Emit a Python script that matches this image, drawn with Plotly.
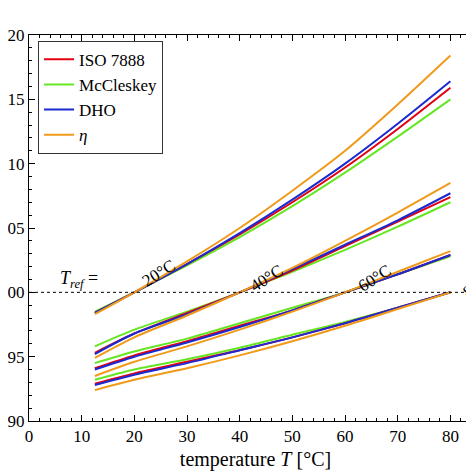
import plotly.graph_objects as go

T = [12.5, 20, 30, 40, 50, 60, 70, 80]
# group Tref = 20
iso20 = [0.984, 1.0, 1.022, 1.045, 1.070, 1.097, 1.127, 1.159]
mcc20 = [0.985, 1.0, 1.021, 1.043, 1.067, 1.093, 1.121, 1.150]
dho20 = [0.984, 1.0, 1.022, 1.046, 1.072, 1.100, 1.131, 1.164]
eta20 = [0.983, 1.0, 1.024, 1.050, 1.079, 1.110, 1.146, 1.184]
# group Tref = 40
iso40 = [0.953, 0.968, 0.984, 1.0, 1.017, 1.036, 1.055, 1.074]
mcc40 = [0.958, 0.971, 0.985, 1.0, 1.016, 1.033, 1.051, 1.070]
dho40 = [0.952, 0.968, 0.983, 1.0, 1.018, 1.037, 1.056, 1.077]
eta40 = [0.949, 0.965, 0.982, 1.0, 1.019, 1.040, 1.062, 1.085]
# group Tref = 60
iso60 = [0.941, 0.951, 0.962, 0.974, 0.986, 1.0, 1.014, 1.029]
mcc60 = [0.945, 0.954, 0.964, 0.976, 0.988, 1.0, 1.014, 1.028]
dho60 = [0.940, 0.950, 0.961, 0.973, 0.986, 1.0, 1.014, 1.029]
eta60 = [0.935, 0.946, 0.958, 0.971, 0.985, 1.0, 1.016, 1.032]
# group Tref = 80
iso80 = [0.929, 0.937, 0.946, 0.955, 0.965, 0.976, 0.988, 1.0]
mcc80 = [0.932, 0.940, 0.948, 0.957, 0.967, 0.977, 0.988, 1.0]
dho80 = [0.928, 0.936, 0.945, 0.955, 0.965, 0.976, 0.988, 1.0]
eta80 = [0.924, 0.932, 0.941, 0.951, 0.962, 0.974, 0.987, 1.0]

names = ["ISO 7888", "McCleskey", "DHO", "<i>η</i>"]
colors = ["#e00010", "#66e622", "#1a2ad0", "#f09a1a"]
groups = [
    [iso20, mcc20, dho20, eta20],
    [iso40, mcc40, dho40, eta40],
    [iso60, mcc60, dho60, eta60],
    [iso80, mcc80, dho80, eta80],
]
y_ticks = [0.90, 0.95, 1.00, 1.05, 1.10, 1.15, 1.20]
labels = ["20°C", "40°C", "60°C", "80°C"]
label_pos = [(24.5, 1.015), (45.0, 1.011), (65.5, 1.011), (85.5, 1.006)]

FONT = "Liberation Serif"
fig = go.Figure()
for gi, g in enumerate(groups):
    for order in [1, 0, 2, 3]:
        fig.add_trace(go.Scatter(x=T, y=g[order], mode="lines", name=names[order],
                                 line=dict(color=colors[order], width=2, shape="spline", smoothing=0.8),
                                 showlegend=False))
for i in range(4):
    fig.add_trace(go.Scatter(x=[None], y=[None], mode="lines", name=names[i],
                             line=dict(color=colors[i], width=2)))
fig.add_hline(y=1.0, line=dict(color="black", width=1, dash="dot"))
for lab, (x, y) in zip(labels, label_pos):
    fig.add_annotation(x=x, y=y, text=lab, showarrow=False, textangle=-32,
                       font=dict(size=17, family=FONT, color="black"))
fig.add_annotation(x=9.5, y=1.0, yshift=13, text="<i>T</i><sub><i>ref</i></sub> =", showarrow=False,
                   font=dict(size=18, family=FONT, color="black"))

ax = dict(showline=True, linecolor="black", linewidth=1, mirror="ticks", ticks="inside",
          ticklen=6, tickcolor="black", showgrid=False, zeroline=False, automargin=False,
          tickfont=dict(size=17, family=FONT, color="black"),
          minor=dict(ticks="inside", ticklen=3, tickcolor="black"))
fig.update_xaxes(**ax, range=[0, 86], tickvals=[0, 10, 20, 30, 40, 50, 60, 70, 80],
                 title=dict(text="temperature <i>T</i> [°C]", font=dict(size=20, family=FONT, color="black"), standoff=6))
fig.update_xaxes(minor=dict(dtick=2))
fig.update_yaxes(**ax, range=[0.90, 1.20], tickvals=y_ticks, tickformat=".2f")
fig.update_yaxes(minor=dict(dtick=0.01))
fig.update_layout(
    width=474, height=474, margin=dict(l=21, r=0, t=27, b=61),
    plot_bgcolor="white", paper_bgcolor="white",
    font=dict(family=FONT),
    legend=dict(x=0.02, y=0.985, xanchor="left", yanchor="top", bordercolor="#333", borderwidth=1,
                bgcolor="white", font=dict(size=17, family=FONT, color="black"), tracegroupgap=0),
)
fig.write_html("out.html")
